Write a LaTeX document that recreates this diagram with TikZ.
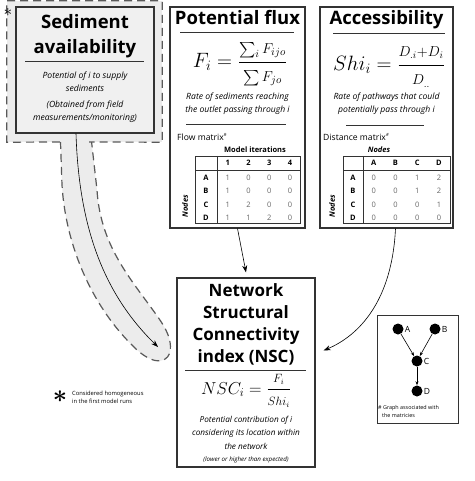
\documentclass[tikz,border=0pt]{standalone}
\usepackage{amsmath, amssymb}
\usepackage{fontspec}
\setmainfont{Open Sans}
\usetikzlibrary{arrows.meta}

\begin{document}
\begin{tikzpicture}[x=1pt, y=-1pt,
        boxline/.style={draw=black!80, line width=1.2pt},
        heading/.style={font=\fontsize{18.5}{25}\selectfont\bfseries, align=center, inner sep=0},
        note/.style={font=\fontsize{8.6}{13}\selectfont\itshape, align=center, inner sep=0},
        cell/.style={font=\fontsize{7.5}{9}\selectfont, text=black!60, inner sep=0},
        hcell/.style={font=\fontsize{7.5}{9}\selectfont\bfseries, inner sep=0},
        dot/.style={circle, fill=black, inner sep=0, minimum size=11pt},
        flow/.style={-{Stealth[length=7pt, width=5pt]}, black, line width=0.6pt}]
        \useasboundingbox (0,0) rectangle (474,481);

        \filldraw[fill=gray!15, draw=black!65, line width=1.2pt, dash pattern=on 8pt off 5pt]
            (60,128) -- (62,185) .. controls (66,250) and (95,310) .. (135,348)
            .. controls (147,360) and (165,368) .. (170,352)
            .. controls (173,335) and (160,320) .. (147,302)
            .. controls (125,272) and (100,240) .. (97,190) -- (90,128) -- cycle;

        \node[fill=gray!15, minimum width=155pt, minimum height=141pt, inner sep=0] (sedout) at (84.5,71.5) {};
        \draw[black!65, line width=1.2pt, dash pattern=on 8pt off 5pt]
            (60,142) -- (sedout.south west) -- (sedout.north west) -- (sedout.north east) -- (sedout.south east) -- (89,142);
        \node[boxline, fill=gray!12, minimum width=138pt, minimum height=126pt, inner sep=0] (sedbox) at (85,70) {};
        \node[font=\fontsize{18}{18}\selectfont, inner sep=0] (star) at (8,12) {$\ast$};
        \node[heading] (sedtitle) at (85,36) {Sediment\\availability};
        \draw[black!80, line width=0.8pt] (25,61) -- (144,61);
        \node[note] (sednote) at (85,81.5) {Potential of i to supply\\sediments};
        \node[note] (sedsrc) at (85,111.5) {(Obtained from field\\measurements/monitoring)};

        \node[boxline, minimum width=135pt, minimum height=221pt, inner sep=0] (fluxbox) at (237.5,117.5) {};
        \node[heading] (fluxtitle) at (237.5,18) {Potential flux};
        \draw[black!80, line width=0.8pt] (180,32) -- (294,32);
        \node[font=\fontsize{22}{26}\selectfont, inner sep=0] (fluxeq) at (240,64) {$F_i = \dfrac{\scriptstyle\sum_i F_{ijo}}{\scriptstyle\sum F_{jo}}$};
        \node[note] (fluxnote) at (237.5,103.5) {Rate of sediments reaching\\the outlet passing through i};
        \draw[black!80, line width=0.6pt] (186,124) -- (286,124);
        \node[font=\fontsize{8.6}{10}\selectfont, anchor=west, inner sep=0] (flowmat) at (177,137) {Flow matrix$^{\scriptscriptstyle\#}$};
        \node[hcell] (iters) at (255,150) {Model iterations};
        \draw[black!80, line width=0.9pt] (195,156) rectangle (300,223);
        \draw[black!80, line width=0.9pt] (217,156) -- (217,223) (195,170) -- (300,170);
        \node[hcell, font=\fontsize{7.5}{9}\selectfont\bfseries\itshape, rotate=90] (fluxnodes) at (185,206) {Nodes};
        \foreach \v [count=\j] in {1,2,3,4}
            \node[hcell] (fh\j) at (207+20.75*\j,163) {\v};
        \foreach \n/\pa/\pb/\pc/\pd [count=\i] in {A/1/0/0/0, B/1/0/0/0, C/1/2/0/0, D/1/1/2/0} {
            \node[hcell] (fr\i) at (206,164+13.5*\i) {\n};
            \foreach \v [count=\j] in {\pa,\pb,\pc,\pd}
                \node[cell] (f\i\j) at (207+20.75*\j,164+13.5*\i) {\v};
        }

        \node[boxline, minimum width=133pt, minimum height=221pt, inner sep=0] (accbox) at (386.5,117.5) {};
        \node[heading] (acctitle) at (386.5,20) {Accessibility};
        \draw[black!80, line width=0.8pt] (333,33) -- (445,33);
        \node[font=\fontsize{20}{22}\selectfont, inner sep=0] (acceq) at (389,67) {$Shi_i = \dfrac{\scriptstyle D_{.i}+D_{i}}{\scriptstyle D_{..}}$};
        \node[note] (accnote) at (386.5,103.5) {Rate of pathways that could\\potentially pass through i};
        \draw[black!80, line width=0.6pt] (346,125) -- (424,125);
        \node[font=\fontsize{8.6}{10}\selectfont, anchor=west, inner sep=0] (distmat) at (323,137) {Distance matrix$^{\scriptscriptstyle\#}$};
        \node[hcell, font=\fontsize{7.5}{9}\selectfont\bfseries\itshape] (accnodes) at (379,150) {Nodes};
        \draw[black!80, line width=0.9pt] (343,156) rectangle (450,223);
        \draw[black!80, line width=0.9pt] (363,156) -- (363,223) (343,170) -- (450,170);
        \node[hcell, font=\fontsize{7.5}{9}\selectfont\bfseries\itshape, rotate=90] (accrows) at (332,206) {Nodes};
        \foreach \v [count=\j] in {A,B,C,D}
            \node[hcell] (ah\j) at (352+21.75*\j,163) {\v};
        \foreach \n/\pa/\pb/\pc/\pd [count=\i] in {A/0/0/1/2, B/0/0/1/2, C/0/0/0/1, D/0/0/0/0} {
            \node[hcell] (ar\i) at (353,164+13.5*\i) {\n};
            \foreach \v [count=\j] in {\pa,\pb,\pc,\pd}
                \node[cell] (a\i\j) at (352+21.75*\j,164+13.5*\i) {\v};
        }

        \node[boxline, minimum width=138pt, minimum height=189pt, inner sep=0] (nscbox) at (246,372.5) {};
        \node[heading, font=\fontsize{17}{22}\selectfont\bfseries] (nsctitle) at (246,324.5) {Network\\Structural\\Connectivity\\index (NSC)};
        \draw[black!80, line width=0.8pt] (185,370) -- (306,370);
        \node[font=\fontsize{17}{20}\selectfont, inner sep=0] (nsceq) at (246,391) {$NSC_i = \dfrac{\scriptstyle F_i}{\scriptstyle Shi_i}$};
        \node[note, font=\fontsize{8.2}{13.5}\selectfont\itshape] (nscnote) at (246,432.5) {Potential contribution of i\\considering its location within\\the network};
        \node[note, font=\fontsize{6.2}{8}\selectfont\itshape] (nscrange) at (246,460) {(lower or higher than expected)};

        \draw[flow] (fluxbox.south) -- ([yshift=5pt]nscbox.north);
        \draw[flow] ([xshift=9pt]accbox.south) .. controls (392,300) and (360,335) .. ([xshift=8pt, yshift=22pt]nscbox.east);
        \draw[flow] ([xshift=-9pt]sedbox.south) .. controls (79,230) and (105,295) .. (158,347);

        \node[boxline, line width=1pt, minimum width=81pt, minimum height=108pt, inner sep=0] (graphbox) at (417.5,369) {};
        \node[dot, label={[font=\fontsize{8.5}{10}\selectfont, inner sep=1pt]right:A}] (A) at (398,329) {};
        \node[dot, label={[font=\fontsize{8.5}{10}\selectfont, inner sep=1pt]right:B}] (B) at (435,329) {};
        \node[dot, label={[font=\fontsize{8.5}{10}\selectfont, inner sep=1pt]right:C}] (C) at (417,361) {};
        \node[dot, label={[font=\fontsize{8.5}{10}\selectfont, inner sep=1pt]right:D}] (D) at (417,391) {};
        \draw[flow, -{Stealth[length=4pt, width=3pt]}] (A) -- (C);
        \draw[flow, -{Stealth[length=4pt, width=3pt]}] (B) -- (C);
        \draw[flow, -{Stealth[length=4pt, width=3pt]}] (C) -- (D);
        \node[font=\fontsize{5.4}{7.5}\selectfont, align=left, anchor=north west, inner sep=0] (graphnote) at (378,405.5) {\# Graph associated with\\\hspace{4pt}the matricies};

        \node[font=\fontsize{24}{24}\selectfont\bfseries, inner sep=0] (legstar) at (60,397) {$\boldsymbol{\ast}$};
        \node[font=\fontsize{5.8}{8.5}\selectfont, align=left, anchor=west, inner sep=0] (legnote) at (72,397.5) {Considered homogeneous\\in the first model runs};
\end{tikzpicture}
\end{document}
